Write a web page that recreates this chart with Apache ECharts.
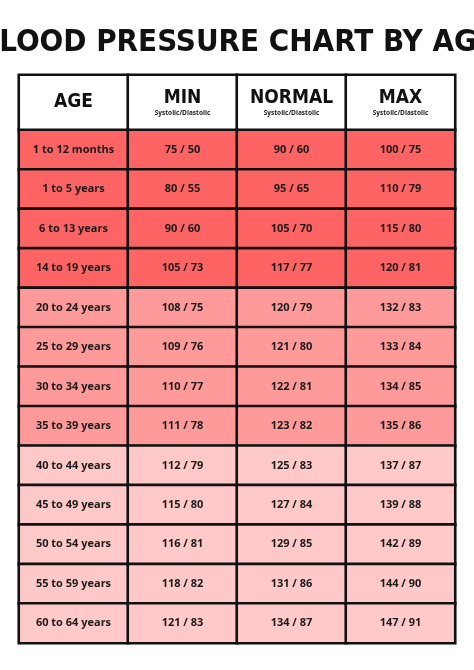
<!DOCTYPE html>
<html><head><meta charset="utf-8">
<script src="https://cdn.jsdelivr.net/npm/echarts@6/dist/echarts.min.js"></script>
<style>html,body{margin:0;padding:0;background:#fff}#c{width:474px;height:670px}</style>
</head><body><div id="c"></div>
<script>
const headers = ['AGE','MIN','NORMAL','MAX'];
const subHeader = 'Systolic/Diastolic';
const ages = ['1 to 12 months','1 to 5 years','6 to 13 years','14 to 19 years','20 to 24 years','25 to 29 years','30 to 34 years','35 to 39 years','40 to 44 years','45 to 49 years','50 to 54 years','55 to 59 years','60 to 64 years'];
const minVals = ['75 / 50','80 / 55','90 / 60','105 / 73','108 / 75','109 / 76','110 / 77','111 / 78','112 / 79','115 / 80','116 / 81','118 / 82','121 / 83'];
const normalVals = ['90 / 60','95 / 65','105 / 70','117 / 77','120 / 79','121 / 80','122 / 81','123 / 82','125 / 83','127 / 84','129 / 85','131 / 86','134 / 87'];
const maxVals = ['100 / 75','110 / 79','115 / 80','120 / 81','132 / 83','133 / 84','134 / 85','135 / 86','137 / 87','139 / 88','142 / 89','144 / 90','147 / 91'];
const tiers = [0,0,0,0,1,1,1,1,2,2,2,2,2];
const tierColors = ['#ff6464','#ff9a9a','#ffc9c9'];

const cols = [ages, minVals, normalVals, maxVals];
const bodyData = [];
for (let c = 0; c < 4; c++) for (let r = 0; r < ages.length; r++)
  bodyData.push({value:[c, r, tiers[r]], itemStyle:{color: tierColors[tiers[r]]}});
const headData = headers.map((h,i)=>({value:[i,0,0]}));

const narrow = '"Liberation Sans Narrow", "DejaVu Sans Condensed", sans-serif';
const chart = echarts.init(document.getElementById('c'));
const cell = {borderColor:'#111', borderWidth:2.6};
chart.setOption({
  animation:false,
  title:{text:'BLOOD PRESSURE CHART BY AGE', left:'center', top:22,
    textStyle:{fontFamily:narrow, fontWeight:'bold', fontSize:31, color:'#111'}},
  grid:[{left:19,right:19,top:75,height:55},{left:19,right:19,top:130,height:513}],
  xAxis:[
    {type:'category', gridIndex:0, data:headers, show:false},
    {type:'category', gridIndex:1, data:headers, show:false}],
  yAxis:[
    {type:'category', gridIndex:0, data:['h'], show:false},
    {type:'category', gridIndex:1, data:ages, inverse:true, show:false}],
  series:[
    {type:'heatmap', xAxisIndex:0, yAxisIndex:0, data:headData,
     itemStyle:Object.assign({color:'#fff'}, cell),
     label:{show:true, formatter:p=> p.value[0]===0 ? '{h|'+headers[0]+'}' : '{h|'+headers[p.value[0]]+'}\n{s|'+subHeader+'}',
       rich:{h:{fontFamily:narrow, fontWeight:'bold', fontSize:19, color:'#111', lineHeight:21},
             s:{fontFamily:'Open Sans', fontWeight:'bold', fontSize:6.5, color:'#222', lineHeight:9}}}},
    {type:'heatmap', xAxisIndex:1, yAxisIndex:1, data:bodyData,
     itemStyle:cell,
     label:{show:true, formatter:p=>cols[p.value[0]][p.value[1]],
       fontFamily:'Open Sans', fontWeight:'bold', fontSize:11, color:'#1a1a1a'}}
  ]
});
</script></body></html>
